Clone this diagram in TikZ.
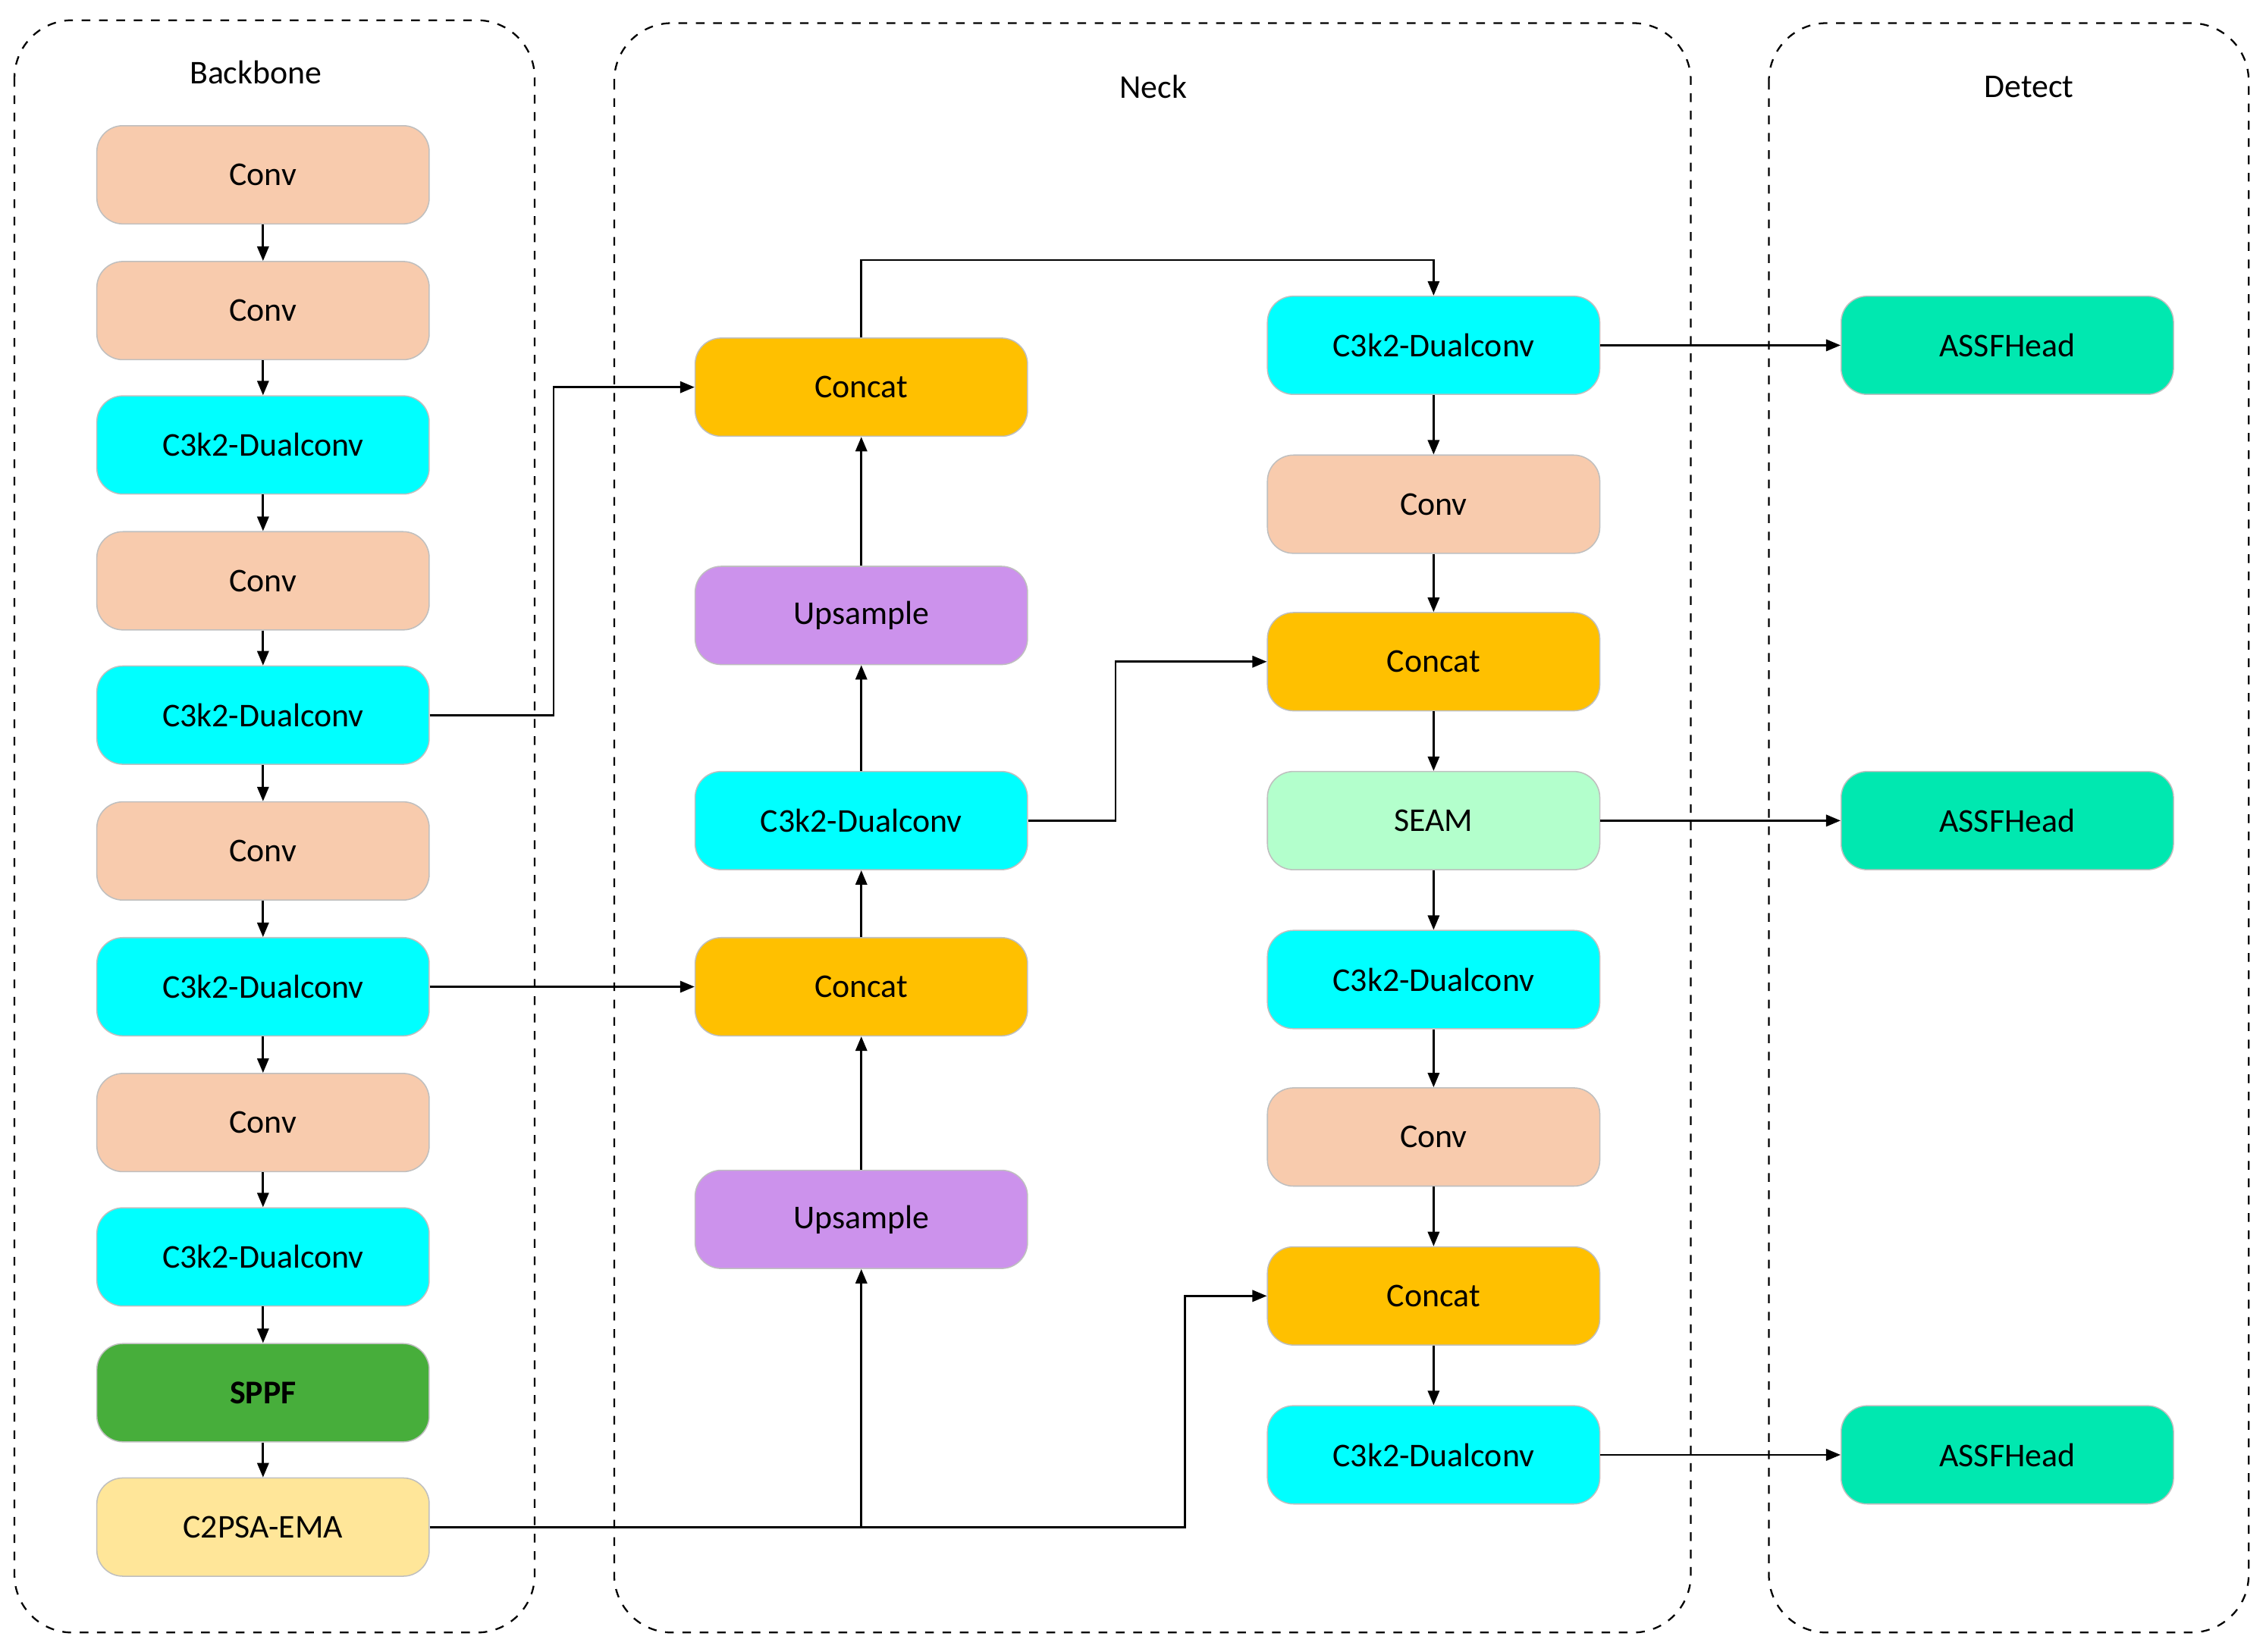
\documentclass[tikz,border=0pt]{standalone}
\usepackage{fontspec}
\setmainfont{Carlito}
\usetikzlibrary{arrows.meta}
\definecolor{conv}{HTML}{F8CBAD}
\definecolor{c3k}{HTML}{00FFFF}
\definecolor{cat}{HTML}{FFC000}
\definecolor{ups}{HTML}{CC92EC}
\definecolor{seam}{HTML}{B3FFCC}
\definecolor{sppf}{HTML}{47AE3B}
\definecolor{psa}{HTML}{FFE699}
\definecolor{head}{HTML}{00E8B0}
\begin{document}
\begin{tikzpicture}[x=0.5pt,y=-0.5pt,
 box/.style={draw=black!25,line width=0.4pt,rounded corners=9pt,minimum width=115pt,minimum height=34pt,inner sep=0pt,font=\fontsize{11.5}{13}\selectfont},
 cont/.style={draw,dashed,line width=0.6pt,rounded corners=20pt},
 ar/.style={-{Triangle[length=5pt,width=4pt]},line width=0.7pt},
 ln/.style={line width=0.7pt},
 ttl/.style={font=\fontsize{11.5}{13}\selectfont}]
\useasboundingbox (0,0) rectangle (1568,1143);
\draw[cont] (10,14) rectangle (370,1130);
\draw[cont] (425,16) rectangle (1170,1130);
\draw[cont] (1224,16) rectangle (1556,1130);
\node[ttl] (tb) at (177,50) {Backbone};
\node[ttl] (tn) at (798,60) {Neck};
\node[ttl] (td) at (1404,60) {Detect};
% backbone
\node[box,fill=conv] (b1) at (182,121) {Conv};
\node[box,fill=conv] (b2) at (182,215) {Conv};
\node[box,fill=c3k] (b3) at (182,308) {C3k2-Dualconv};
\node[box,fill=conv] (b4) at (182,402) {Conv};
\node[box,fill=c3k] (b5) at (182,495) {C3k2-Dualconv};
\node[box,fill=conv] (b6) at (182,589) {Conv};
\node[box,fill=c3k] (b7) at (182,683) {C3k2-Dualconv};
\node[box,fill=conv] (b8) at (182,777) {Conv};
\node[box,fill=c3k] (b9) at (182,870) {C3k2-Dualconv};
\node[box,fill=sppf,font=\fontsize{11.5}{13}\selectfont\bfseries] (b10) at (182,964) {SPPF};
\node[box,fill=psa] (b11) at (182,1057) {C2PSA-EMA};
\foreach \a/\b in {b1/b2,b2/b3,b3/b4,b4/b5,b5/b6,b6/b7,b7/b8,b8/b9,b9/b10,b10/b11}
 \draw[ar] (\a) -- (\b);
% neck col1
\node[box,fill=cat] (n1) at (596,268) {Concat};
\node[box,fill=ups] (n2) at (596,426) {Upsample};
\node[box,fill=c3k] (n3) at (596,568) {C3k2-Dualconv};
\node[box,fill=cat] (n4) at (596,683) {Concat};
\node[box,fill=ups] (n5) at (596,844) {Upsample};
% col2
\node[box,fill=c3k] (m1) at (992,239) {C3k2-Dualconv};
\node[box,fill=conv] (m2) at (992,349) {Conv};
\node[box,fill=cat] (m3) at (992,458) {Concat};
\node[box,fill=seam] (m4) at (992,568) {SEAM};
\node[box,fill=c3k] (m5) at (992,678) {C3k2-Dualconv};
\node[box,fill=conv] (m6) at (992,787) {Conv};
\node[box,fill=cat] (m7) at (992,897) {Concat};
\node[box,fill=c3k] (m8) at (992,1007) {C3k2-Dualconv};
\foreach \a/\b in {m1/m2,m2/m3,m3/m4,m4/m5,m5/m6,m6/m7,m7/m8}
 \draw[ar] (\a) -- (\b);
% detect
\node[box,fill=head] (h1) at (1389,239) {ASSFHead};
\node[box,fill=head] (h2) at (1389,568) {ASSFHead};
\node[box,fill=head] (h3) at (1389,1007) {ASSFHead};
\draw[ar] (m1) -- (h1);
\draw[ar] (m4) -- (h2);
\draw[ar] (m8) -- (h3);
% neck links
\draw[ar] (n5) -- (n4);
\draw[ar] (n4) -- (n3);
\draw[ar] (n3) -- (n2);
\draw[ar] (n2) -- (n1);
\draw[ar] (b5.east) -- (383,495) -- (383,268) -- (n1.west);
\draw[ar] (b7) -- (n4);
\coordinate (j) at (596,1057);
\draw[ar] (b11.east) -- (820,1057) -- (820,897) -- (m7.west);
\draw[ar] (j) -- (n5);
\draw[ar] (n1.north) -- (596,180) -- (992,180) -- (m1.north);
\draw[ar] (n3.east) -- (772,568) -- (772,458) -- (m3.west);
\end{tikzpicture}
\end{document}
